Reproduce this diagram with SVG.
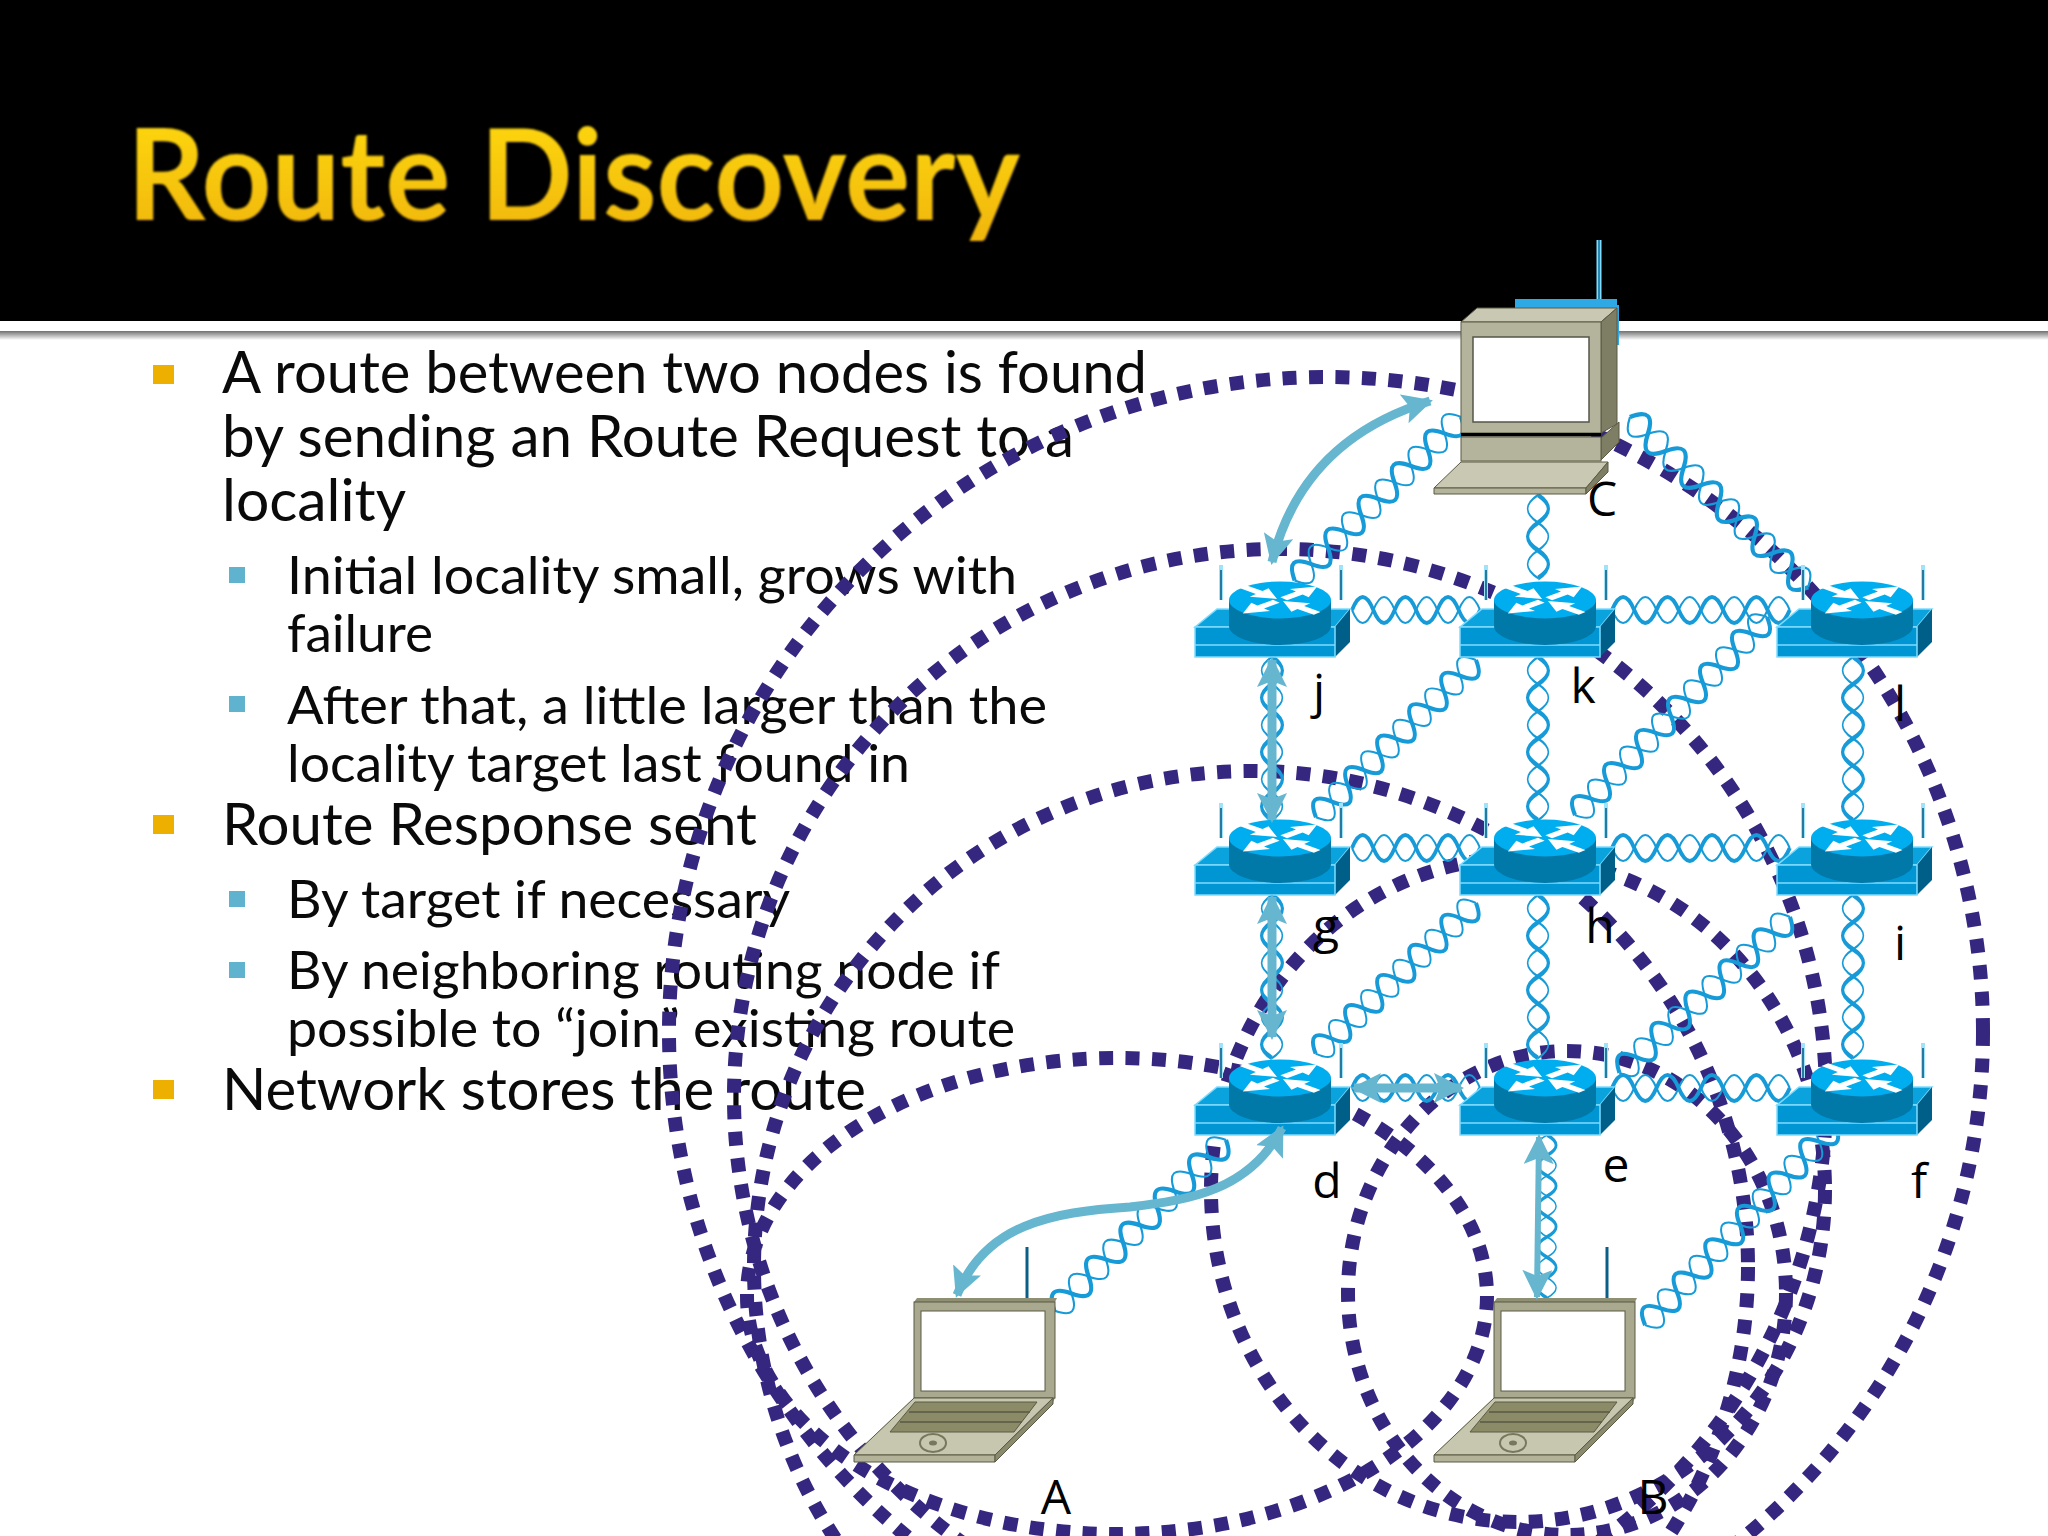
<svg xmlns="http://www.w3.org/2000/svg" width="2048" height="1536" viewBox="0 0 2048 1536">
<style>
.t1{font:58px Lato,"Open Sans",sans-serif;fill:#0a0a0a}
.t2{font:52px Lato,"Open Sans",sans-serif;fill:#0a0a0a}
.lab{font:48px "Open Sans","Noto Sans",sans-serif;fill:#000;text-anchor:middle}
.b1{fill:#eeb000}
.b2{fill:#5fb3cf}
.ring{fill:none;stroke:#35277f;stroke-width:14;stroke-dasharray:14 12.5}
.thick{fill:none;stroke:#169bd8;stroke-width:4}
.thin{fill:none;stroke:#169bd8;stroke-width:2}
.arr{fill:none;stroke:#66b6d0;stroke-width:9;marker-start:url(#head);marker-end:url(#head)}
.lo{stroke:#5a5a45;stroke-width:1}
</style>
<defs>
<linearGradient id="gold" x1="0" y1="0" x2="0" y2="1"><stop offset="0" stop-color="#ffdc08"/><stop offset="1" stop-color="#f0b408"/></linearGradient>
<linearGradient id="shade" x1="0" y1="0" x2="0" y2="1"><stop offset="0" stop-color="#707070"/><stop offset="1" stop-color="#fff"/></linearGradient>
<filter id="soft" x="-5%" y="-10%" width="110%" height="120%"><feGaussianBlur stdDeviation="1.1"/></filter>
<marker id="head" viewBox="0 0 10 10" refX="9" refY="5" markerUnits="userSpaceOnUse" markerWidth="30" markerHeight="30" orient="auto-start-reverse"><path d="M0 0L10 5L0 10L2 5Z" fill="#66b6d0"/></marker>
<g id="h3"><path class="thick" d="M0 0q11-26 22 0t22 0t22 0"/><path class="thin" d="M0 0q11 26 22 0t22 0t22 0"/></g>
<g id="h6"><path class="thick" d="M0 0q11-26 22 0t22 0t22 0t22 0t22 0t22 0"/><path class="thin" d="M0 0q11 26 22 0t22 0t22 0t22 0t22 0t22 0"/></g>
<g id="h8"><path class="thick" d="M0 0q11-26 22 0t22 0t22 0t22 0t22 0t22 0t22 0t22 0"/><path class="thin" d="M0 0q11 26 22 0t22 0t22 0t22 0t22 0t22 0t22 0t22 0"/></g>
<g id="h10"><path class="thick" d="M0 0q11-26 22 0t22 0t22 0t22 0t22 0t22 0t22 0t22 0t22 0t22 0"/><path class="thin" d="M0 0q11 26 22 0t22 0t22 0t22 0t22 0t22 0t22 0t22 0t22 0t22 0"/></g>
<g id="h12"><path class="thick" d="M0 0q11-26 22 0t22 0t22 0t22 0t22 0t22 0t22 0t22 0t22 0t22 0t22 0t22 0"/><path class="thin" d="M0 0q11 26 22 0t22 0t22 0t22 0t22 0t22 0t22 0t22 0t22 0t22 0t22 0t22 0"/></g>
<g id="router">
<path d="M26-17V18M146-17V18" stroke="#9fe3fb" stroke-width="4" fill="none"/>
<path d="M26-12V18M146-12V18" stroke="#0b5f86" stroke-width="1.6" fill="none"/>
<path d="M0 45L22 27H155L140 45Z" fill="#0ba3de" stroke="#7fdcff" stroke-width="1.5"/>
<path d="M140 45L155 27V60L140 75Z" fill="#005f88"/>
<rect x="0" y="45" width="140" height="30" fill="#0095d3" stroke="#7fdcff" stroke-width="1.5"/>
<path d="M0 63H140" stroke="#7fdcff" stroke-width="1.5"/>
<path d="M34 18V44A51 19 0 0 0 136 44V18Z" fill="#0079a9"/>
<ellipse cx="85" cy="18" rx="51" ry="18.5" fill="#00aeef"/>
<g transform="translate(85 18) scale(1 .4)" fill="#fff">
<path transform="rotate(-42)" d="M5-5H26V-14L50 0L26 14V5H5Z"/>
<path transform="rotate(138)" d="M5-5H26V-14L50 0L26 14V5H5Z"/>
<path transform="rotate(222)" d="M50-5H28V-14L4 0L28 14V5H50Z"/>
<path transform="rotate(42)" d="M50-5H28V-14L4 0L28 14V5H50Z"/>
</g>
</g>
<g id="laptop">
<path d="M173-51V0" stroke="#0b5f86" stroke-width="3" fill="none"/>
<path d="M60 4L63 0H203L201 4V100L199 104L141 157V164H0V157L60 100Z" fill="#8f8f74"/>
<rect class="lo" x="60" y="4" width="141" height="96" fill="#a9a98f"/>
<rect class="lo" x="67" y="13" width="124" height="80" fill="#fff"/>
<path class="lo" d="M60 100H199L141 157H0Z" fill="#c7c7af"/>
<path class="lo" d="M0 157H141V164H0Z" fill="#b3b39a"/>
<path class="lo" d="M199 100V106L141 164V157Z" fill="#8a8a6f"/>
<path class="lo" d="M61 104H183L160 134H36Z" fill="#8b8b68"/>
<path d="M55 114H176M46 124H168" stroke="#5a5a45" stroke-width="1.5" fill="none"/>
<ellipse cx="79" cy="145" rx="13" ry="9" fill="none" stroke="#77775e" stroke-width="2"/>
<ellipse cx="79" cy="145" rx="4" ry="2.5" fill="#77775e"/>
</g>
</defs>
<rect width="2048" height="1536" fill="#fff"/>
<g id="header">
<rect width="2048" height="321" fill="#000"/>
<rect y="331" width="2048" height="9" fill="url(#shade)"/>
<text x="127" y="220" font-family="Lato,'Open Sans',sans-serif" font-size="126" font-weight="700" fill="url(#gold)" filter="url(#soft)" textLength="893" lengthAdjust="spacingAndGlyphs">Route Discovery</text>
</g>
<g id="body-text">
<rect class="b1" x="153" y="365" width="21" height="19"/>
<text class="t1" x="222" y="393" textLength="925" lengthAdjust="spacingAndGlyphs">A route between two nodes is found</text>
<text class="t1" x="222" y="457" textLength="852" lengthAdjust="spacingAndGlyphs">by sending an Route Request to a</text>
<text class="t1" x="222" y="521" textLength="184" lengthAdjust="spacingAndGlyphs">locality</text>
<rect class="b2" x="229" y="567" width="16" height="16"/>
<text class="t2" x="287" y="594" textLength="730" lengthAdjust="spacingAndGlyphs">Initial locality small, grows with</text>
<text class="t2" x="287" y="652" textLength="146" lengthAdjust="spacingAndGlyphs">failure</text>
<rect class="b2" x="229" y="696" width="16" height="16"/>
<text class="t2" x="287" y="724" textLength="760" lengthAdjust="spacingAndGlyphs">After that, a little larger than the</text>
<text class="t2" x="287" y="782" textLength="623" lengthAdjust="spacingAndGlyphs">locality target last found in</text>
<rect class="b1" x="153" y="815" width="21" height="19"/>
<text class="t1" x="222" y="845" textLength="535" lengthAdjust="spacingAndGlyphs">Route Response sent</text>
<rect class="b2" x="229" y="891" width="16" height="16"/>
<text class="t2" x="287" y="918" textLength="503" lengthAdjust="spacingAndGlyphs">By target if necessary</text>
<rect class="b2" x="229" y="962" width="16" height="16"/>
<text class="t2" x="287" y="989" textLength="713" lengthAdjust="spacingAndGlyphs">By neighboring routing node if</text>
<text class="t2" x="287" y="1047" textLength="728" lengthAdjust="spacingAndGlyphs">possible to “join” existing route</text>
<rect class="b1" x="153" y="1080" width="21" height="19"/>
<text class="t1" x="222" y="1110" textLength="644" lengthAdjust="spacingAndGlyphs">Network stores the route</text>
</g>
<g id="rings">
<ellipse class="ring" cx="1326" cy="1032" rx="657" ry="655"/>
<ellipse class="ring" cx="1280" cy="1097" rx="546" ry="548"/>
<ellipse class="ring" cx="1251" cy="1267" rx="497" ry="496"/>
<ellipse class="ring" cx="1518" cy="1190" rx="307" ry="332"/>
<ellipse class="ring" cx="1117" cy="1296" rx="370" ry="238"/>
<ellipse class="ring" cx="1567" cy="1293" rx="219" ry="242"/>
</g>
<g id="connectors">
<use href="#h6" transform="translate(1352 610) scale(.97 1)"/>
<use href="#h8" transform="translate(1612 610) scale(1.01 1)"/>
<use href="#h6" transform="translate(1352 848) scale(.97 1)"/>
<use href="#h8" transform="translate(1612 848) scale(1.01 1)"/>
<use href="#h6" transform="translate(1352 1088) scale(.97 1)"/>
<use href="#h8" transform="translate(1612 1088) scale(1.01 1)"/>
<use href="#h3" transform="translate(1538 495) rotate(90) scale(1.26 .8)"/>
<use href="#h6" transform="translate(1272 657) rotate(90) scale(1.235 .8)"/>
<use href="#h6" transform="translate(1538 657) rotate(90) scale(1.235 .8)"/>
<use href="#h6" transform="translate(1853 657) rotate(90) scale(1.235 .8)"/>
<use href="#h6" transform="translate(1272 895) rotate(90) scale(1.235 .8)"/>
<use href="#h6" transform="translate(1538 895) rotate(90) scale(1.235 .8)"/>
<use href="#h6" transform="translate(1853 895) rotate(90) scale(1.235 .8)"/>
<use href="#h8" transform="translate(1547 1135) rotate(90) scale(.926 .7)"/>
<use href="#h10" transform="translate(1461 417) rotate(135.5) scale(1.06 1)"/>
<use href="#h10" transform="translate(1630 417) rotate(43.7) scale(1.12 1)"/>
<use href="#h10" transform="translate(1476 660) rotate(135.5) scale(1.02 1)"/>
<use href="#h12" transform="translate(1767 617) rotate(134.1) scale(1.045 1)"/>
<use href="#h10" transform="translate(1476 903) rotate(136.8)"/>
<use href="#h10" transform="translate(1790 917) rotate(137.6) scale(1.05 1)"/>
<use href="#h12" transform="translate(1835 1125) rotate(133.5) scale(1.045 1)"/>
<use href="#h10" transform="translate(1226 1140) rotate(135.2) scale(1.1 1)"/>
</g>
<g id="node-j"><use href="#router" x="1195" y="582"/><text class="lab" x="1319" y="708">j</text></g>
<g id="node-k"><use href="#router" x="1460" y="582"/><text class="lab" x="1583" y="703">k</text></g>
<g id="node-l"><use href="#router" x="1777" y="582"/><text class="lab" x="1900" y="721">l</text></g>
<g id="node-g"><use href="#router" x="1195" y="820"/><text class="lab" x="1326" y="943">g</text></g>
<g id="node-h"><use href="#router" x="1460" y="820"/><text class="lab" x="1600" y="943">h</text></g>
<g id="node-i"><use href="#router" x="1777" y="820"/><text class="lab" x="1900" y="960">i</text></g>
<g id="node-d"><use href="#router" x="1195" y="1060"/><text class="lab" x="1327" y="1198">d</text></g>
<g id="node-e"><use href="#router" x="1460" y="1060"/><text class="lab" x="1616" y="1182">e</text></g>
<g id="node-f"><use href="#router" x="1777" y="1060"/><text class="lab" x="1919" y="1198">f</text></g>
<g id="node-C">
<path d="M1599 240V300" stroke="#7fdcff" stroke-width="5" fill="none"/>
<path d="M1599 240V300" stroke="#0b6b96" stroke-width="1.5" fill="none"/>
<rect x="1515" y="299" width="102" height="10" fill="#2fa9e6"/>
<rect x="1616" y="305" width="3" height="40" fill="#2fa9e6"/>
<path class="lo" d="M1461 322L1477 308H1617L1601 322Z" fill="#c9c9b3"/>
<path class="lo" d="M1601 322L1617 308V424L1601 433Z" fill="#7e7e64"/>
<rect class="lo" x="1461" y="322" width="140" height="111" fill="#b4b49c"/>
<rect x="1473" y="337" width="116" height="85" fill="#fff" stroke="#55554a" stroke-width="1.5"/>
<rect x="1461" y="433" width="140" height="3.5" fill="#000"/>
<path class="lo" d="M1601 438L1619 422V442L1601 460Z" fill="#7e7e64"/>
<rect class="lo" x="1461" y="437" width="140" height="24" fill="#b4b49c"/>
<path class="lo" d="M1461 462H1608L1586 488H1434Z" fill="#c9c9b3"/>
<path class="lo" d="M1434 488H1586V494H1434Z" fill="#b4b49c"/>
<path class="lo" d="M1608 462V472L1586 494V488Z" fill="#7e7e64"/>
<text class="lab" x="1602" y="516">C</text>
</g>
<g id="node-A"><use href="#laptop" x="854" y="1298"/><text class="lab" x="1056" y="1514">A</text></g>
<g id="node-B"><use href="#laptop" x="1434" y="1298"/><text class="lab" x="1653" y="1514">B</text></g>
<g id="arrows">
<path class="arr" d="M1430 401Q1302 440 1272 562"/>
<path class="arr" d="M1272 660V820"/>
<path class="arr" d="M1272 897V1037"/>
<path class="arr" d="M1354 1088H1461"/>
<path class="arr" style="stroke-width:6" d="M1539 1137L1537 1297"/>
<path class="arr" d="M1282 1128C1250 1190 1190 1200 1130 1207C1050 1212 985 1225 957 1295"/>
</g>
</svg>
